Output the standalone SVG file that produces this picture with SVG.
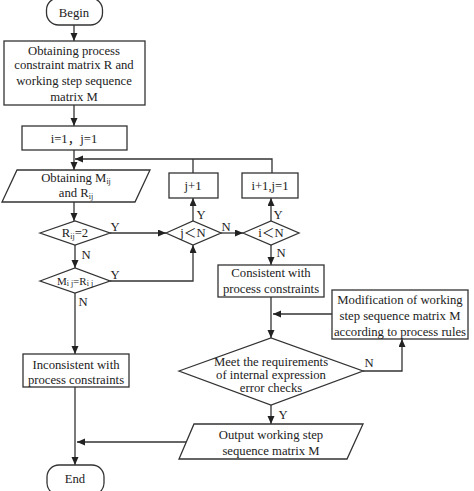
<svg xmlns="http://www.w3.org/2000/svg" width="474" height="491" viewBox="0 0 474 491">
<style>
.s{fill:#fff;stroke:#333;stroke-width:1.3}
.c{fill:none;stroke:#333;stroke-width:1.3}
text{font-family:"Liberation Serif","Times New Roman",serif;font-size:12.7px;fill:#222;text-anchor:middle}
.cjk{font-family:"Noto Sans CJK SC",sans-serif}
.sub{font-size:8px}
</style>
<defs>
<marker id="a" markerUnits="userSpaceOnUse" markerWidth="9" markerHeight="8" refX="8" refY="3.5" orient="auto"><path d="M0,0 L8,3.5 L0,7 z" fill="#222"/></marker>
</defs>
<g id="connectors" class="c" marker-end="url(#a)">
<path d="M74,25 V41"/>
<path d="M74,105 V126"/>
<path d="M74,150 V170"/>
<path d="M272,173 V159 H75"/>
<path d="M193,173 V159" marker-end="none"/>
<path d="M74,202 V221"/>
<path d="M110,233 H166"/>
<path d="M221,233 H243"/>
<path d="M193,221 V198"/>
<path d="M271,221 V198"/>
<path d="M75,245 V268"/>
<path d="M110,281 H193 V245"/>
<path d="M75,293 V354"/>
<path d="M271,245 V265"/>
<path d="M75,387 V465"/>
<path d="M271,297 V338"/>
<path d="M332,314 H273"/>
<path d="M363,371 H402 V339"/>
<path d="M271,405 V424"/>
<path d="M186,442 H77"/>
</g>
<g id="labels">
<text x="115" y="231">Y</text>
<text x="226" y="231">N</text>
<text x="201" y="219">Y</text>
<text x="278" y="219">Y</text>
<text x="86" y="259">N</text>
<text x="115" y="279">Y</text>
<text x="83" y="306">N</text>
<text x="281" y="257">N</text>
<text x="369" y="367">N</text>
<text x="283" y="419">Y</text>
</g>
<g id="begin"><rect class="s" x="46.5" y="-2" width="56" height="27" rx="12"/><text x="74" y="17">Begin</text></g>
<g id="obtainRM"><rect class="s" x="4" y="41" width="141" height="64"/>
<text x="74" y="55">Obtaining process</text><text x="74" y="69">constraint matrix R and</text><text x="74" y="85">working step sequence</text><text x="74" y="101">matrix M</text></g>
<g id="init"><rect class="s" x="22" y="126" width="105" height="24"/><text x="74" y="143">i=1<tspan class="cjk">，</tspan>j=1</text></g>
<g id="obtainMR"><path class="s" d="M17,170 H150 L135,202 H2 Z"/>
<text x="76" y="182">Obtaining M<tspan class="sub" dy="2">ij</tspan></text><text x="76" y="197">and R<tspan class="sub" dy="2">ij</tspan></text></g>
<g id="d1"><path class="s" d="M40,233 L75,221 L110,233 L75,245 Z"/><text x="75" y="237">R<tspan class="sub" dy="2">ij</tspan><tspan dy="-2">=2</tspan></text></g>
<g id="d2"><path class="s" d="M40,281 L75,268 L110,281 L75,293 Z"/><text x="75" y="285" style="font-size:11px">M<tspan class="sub" dy="1">i j</tspan><tspan dy="-1">=R</tspan><tspan class="sub" dy="1">i j</tspan></text></g>
<g id="jN"><path class="s" d="M166,233 L193,221 L221,233 L193,245 Z"/><text x="193" y="237">j<tspan class="cjk">＜</tspan>N</text></g>
<g id="iN"><path class="s" d="M243,233 L271,221 L299,233 L271,245 Z"/><text x="271" y="237">i<tspan class="cjk">＜</tspan>N</text></g>
<g id="jp1"><rect class="s" x="169" y="173" width="49" height="25"/><text x="193" y="190">j+1</text></g>
<g id="ip1"><rect class="s" x="242" y="173" width="56" height="25"/><text x="270" y="190">i+1,j=1</text></g>
<g id="consistent"><rect class="s" x="218" y="265" width="106" height="32"/><text x="271" y="277">Consistent with</text><text x="271" y="293">process constraints</text></g>
<g id="inconsistent"><rect class="s" x="23" y="354" width="106" height="33"/><text x="76" y="369">Inconsistent with</text><text x="76" y="384">process constraints</text></g>
<g id="modify"><rect class="s" x="332" y="290" width="136" height="49"/><text x="400" y="304">Modification of working</text><text x="400" y="320">step sequence matrix M</text><text x="400" y="336">according to process rules</text></g>
<g id="meet"><path class="s" d="M179,371 L271,338 L363,371 L271,405 Z"/><text x="271" y="366">Meet the requirements</text><text x="271" y="379">of internal expression</text><text x="271" y="392">error checks</text></g>
<g id="output"><path class="s" d="M194,424 H363 L347,459 H179 Z"/><text x="271" y="439">Output working step</text><text x="271" y="455">sequence matrix M</text></g>
<g id="end"><rect class="s" x="47" y="465" width="57" height="30" rx="12"/><text x="75" y="483">End</text></g>
</svg>
